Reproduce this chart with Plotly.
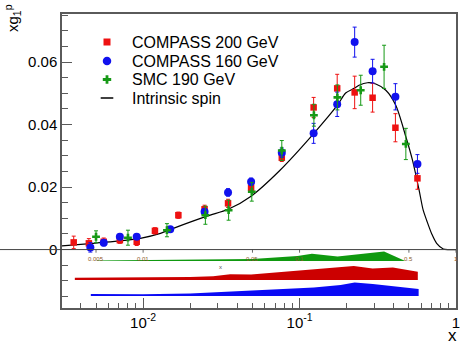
import math
import plotly.graph_objects as go

# ---------------- data ----------------
# COMPASS 200 GeV (red squares)
c200_x = [0.0036, 0.0045, 0.0056, 0.0071, 0.0091, 0.0119, 0.0168, 0.0247, 0.0349, 0.049,
          0.077, 0.123, 0.174, 0.225, 0.293, 0.41, 0.567]
c200_y = [0.0023, 0.0020, 0.0025, 0.0030, 0.0025, 0.0060, 0.0110, 0.0129, 0.0148, 0.0198,
          0.0294, 0.0455, 0.0516, 0.0503, 0.0486, 0.0390, 0.0228]
c200_e = [0.0020, 0.0015, 0.0012, 0.0010, 0.0012, 0.0010, 0.0010, 0.0013, 0.0013, 0.0012,
          0.0012, 0.0032, 0.0045, 0.0052, 0.0046, 0.0045, 0.0035]

# COMPASS 160 GeV (blue circles)
c160_x = [0.0046, 0.0056, 0.0071, 0.0091, 0.0149, 0.0247, 0.0349, 0.049, 0.077, 0.123,
          0.174, 0.225, 0.293, 0.41, 0.567]
c160_y = [0.0007, 0.0022, 0.0041, 0.0041, 0.0065, 0.0121, 0.0183, 0.0217, 0.0310, 0.0372,
          0.0465, 0.0664, 0.0571, 0.0489, 0.0274]
c160_e = [0.0015, 0.0010, 0.0008, 0.0008, 0.0008, 0.0010, 0.0012, 0.0012, 0.0015, 0.0032,
          0.0039, 0.0048, 0.0038, 0.0042, 0.0030]

# SMC 190 GeV (green crosses)
smc_x = [0.0050, 0.0080, 0.0142, 0.0250, 0.0352, 0.0495, 0.0770, 0.1235, 0.1745, 0.246,
         0.347, 0.478]
smc_y = [0.0041, 0.0038, 0.0062, 0.0110, 0.0126, 0.0185, 0.0317, 0.0430, 0.0487, 0.0510,
         0.0585, 0.0338]
smc_e = [0.0019, 0.0024, 0.0021, 0.0029, 0.0032, 0.0030, 0.0032, 0.0035, 0.0040, 0.0048,
         0.0069, 0.0050]

# Intrinsic spin curve
spin_x = [0.003, 0.0048, 0.0079, 0.0096, 0.0129, 0.0156, 0.0256, 0.035, 0.049, 0.075,
          0.1235, 0.1745, 0.197, 0.223, 0.24, 0.2716, 0.307, 0.356, 0.412, 0.478, 0.527,
          0.581, 0.617, 0.649, 0.70, 0.752, 0.829, 0.9, 1.0]
spin_y = [0.0012, 0.0020, 0.0030, 0.0036, 0.0052, 0.0068, 0.0107, 0.0129, 0.0171, 0.0254,
          0.0372, 0.0462, 0.0501, 0.0516, 0.0526, 0.0534, 0.0530, 0.0510, 0.0462, 0.0361, 0.0286,
          0.0190, 0.0126, 0.0094, 0.0050, 0.0020, 0.0002, 0.0, 0.0]

# systematic bands (x and band thickness)
smc_band_x = [0.00505, 0.01, 0.02, 0.036, 0.05, 0.097, 0.12, 0.175, 0.347, 0.47]
smc_band_h = [0.00016, 0.00026, 0.00038, 0.00048, 0.00064, 0.0016, 0.00237, 0.0015, 0.0031, 0.0001]
c200_band_x = [0.00366, 0.01, 0.02, 0.028, 0.036, 0.049, 0.123, 0.222, 0.293, 0.395, 0.57]
c200_band_h = [0.00074, 0.0008, 0.00096, 0.0012, 0.00186, 0.00182, 0.00342, 0.00448, 0.00374,
               0.00406, 0.00266]
c160_band_x = [0.00463, 0.01, 0.02, 0.036, 0.1235, 0.183, 0.225, 0.294, 0.577]
c160_band_h = [0.00064, 0.00058, 0.0008, 0.00138, 0.00278, 0.00352, 0.00438, 0.00384, 0.00224]

# labels
legend_names = ["COMPASS 200 GeV", "COMPASS 160 GeV", "SMC 190 GeV", "Intrinsic spin"]
y_tickvals = [0, 0.02, 0.04, 0.06]
y_ticktext = ["0", "0.02", "0.04", "0.06"]
x_tickvals = [0.01, 0.1, 1]
x_ticktext = ["10<sup>-2</sup>", "10<sup>-1</sup>", "1"]
inset_ticks = [0.005, 0.01, 0.05, 0.1, 0.5, 1]
inset_labels = ["0.005", "0.01", "0.05", "0.1", "0.5", "1"]

# ---------------- style ----------------
RED = "#ee1111"
BLUE = "#1111ee"
GREEN = "#169916"
BAND_GREEN = "#0f990f"
BAND_RED = "#cc0000"
BAND_BLUE = "#0a0af5"
FRAME = "#5a5a5a"
FONT = "Liberation Sans, Arial, sans-serif"

W, H = 474, 355
ML, MR, MT, MB = 62, 18, 14, 47
PW, PH = W - ML - MR, H - MT - MB
XR = [math.log10(0.00303), 0.0]
YR = [-0.0187, 0.0754]

BASE_GREEN = -0.00368
BASE_RED = -0.00976
BASE_BLUE = -0.01488


def px_x(px):
    return (px - ML) / PW


def px_y(py):
    return 1 - (py - MT) / PH


fig = go.Figure()


def band(bx, bh, base, color):
    xs = list(bx) + list(bx)[::-1]
    ys = [base + h for h in bh] + [base] * len(bx)
    return go.Scatter(x=xs, y=ys, mode="lines", fill="toself", fillcolor=color,
                      line=dict(width=0, color=color), showlegend=False, hoverinfo="skip")


fig.add_trace(band(smc_band_x, smc_band_h, BASE_GREEN, BAND_GREEN))
fig.add_trace(band(c200_band_x, c200_band_h, BASE_RED, BAND_RED))
fig.add_trace(band(c160_band_x, c160_band_h, BASE_BLUE, BAND_BLUE))

# curve
fig.add_trace(go.Scatter(x=spin_x, y=spin_y, mode="lines", line=dict(color="black", width=1.2,
                         shape="spline", smoothing=0.8), showlegend=False))

# data sets
fig.add_trace(go.Scatter(x=c200_x, y=c200_y, mode="markers", name=legend_names[0], showlegend=False,
                         marker=dict(symbol="square", size=6.5, color=RED),
                         error_y=dict(type="data", array=c200_e, color=RED, thickness=1, width=2)))
fig.add_trace(go.Scatter(x=c160_x, y=c160_y, mode="markers", name=legend_names[1], showlegend=False,
                         marker=dict(symbol="circle", size=8, color=BLUE),
                         error_y=dict(type="data", array=c160_e, color=BLUE, thickness=1, width=2)))
fig.add_trace(go.Scatter(x=smc_x, y=smc_y, mode="markers", name=legend_names[2], showlegend=False,
                         marker=dict(symbol="cross", size=6.5, color=GREEN),
                         error_y=dict(type="data", array=smc_e, color=GREEN, thickness=1, width=2)))

# hand-placed legend (overlay axes spanning the plot area, 0..1)
leg_rows = [42, 61, 79.5, 98]
leg_syms = [("square", 7, RED), ("circle", 8.5, BLUE), ("cross", 7, GREEN)]
for (sym, sz, col), row in zip(leg_syms, leg_rows[:3]):
    fig.add_trace(go.Scatter(x=[px_x(107)], y=[px_y(row)], xaxis="x2", yaxis="y2", mode="markers",
                             marker=dict(symbol=sym, size=sz, color=col), showlegend=False,
                             hoverinfo="skip"))
fig.add_trace(go.Scatter(x=[px_x(107)], y=[px_y(leg_rows[3])], xaxis="x2", yaxis="y2",
                         mode="markers", showlegend=False, hoverinfo="skip",
                         marker=dict(symbol="line-ew", size=9, color="black",
                                     line=dict(color="black", width=1.5))))
for name, row in zip(legend_names, leg_rows):
    fig.add_annotation(x=px_x(130), y=px_y(row), xref="paper", yref="paper", text=name,
                       showarrow=False, xanchor="left", yanchor="middle",
                       font=dict(size=16, color="black", family=FONT))

# zero line, extending left beyond the frame
fig.add_shape(type="line", xref="paper", yref="y", x0=-ML / PW, x1=1, y0=0, y1=0,
              line=dict(color="#444444", width=1), layer="above")
# inset axis ticks and labels
for v, t in zip(inset_ticks, inset_labels):
    fig.add_shape(type="line", xref="x", yref="y", x0=v, x1=v, y0=0, y1=-0.001,
                  line=dict(color="#444444", width=0.8))
    fig.add_annotation(x=math.log10(v), y=0, xref="x", yref="y", text=t, showarrow=False,
                       yshift=-9, font=dict(size=6, color="#8a5a2a", family=FONT))
fig.add_annotation(x=math.log10(0.0312), y=0, xref="x", yref="y", text="x", showarrow=False,
                   yshift=-17, font=dict(size=6, color="#555555", family=FONT))

# axis titles
fig.add_annotation(x=px_x(12), y=px_y(18), xref="paper", yref="paper",
                   text="xg<sub>1</sub><sup>p</sup>", textangle=-90, showarrow=False,
                   xanchor="center", yanchor="middle", font=dict(size=15, color="black", family=FONT))
fig.add_annotation(x=px_x(452), y=px_y(335), xref="paper", yref="paper",
                   text="x", showarrow=False, xanchor="center", yanchor="middle",
                   font=dict(size=17, color="black", family=FONT))

fig.update_layout(
    width=W, height=H,
    margin=dict(l=ML, r=MR, t=MT, b=MB),
    paper_bgcolor="white", plot_bgcolor="white",
    font=dict(family=FONT, size=15, color="black"),
    showlegend=False,
    xaxis=dict(type="log", range=XR, tickvals=x_tickvals, ticktext=x_ticktext,
               ticks="inside", ticklen=10, tickwidth=1, tickcolor=FRAME,
               showline=True, linecolor=FRAME, linewidth=1.5, mirror=True, automargin=False,
               showgrid=False, zeroline=False, tickfont=dict(size=15),
               minor=dict(ticks="inside", ticklen=5, tickcolor=FRAME, showgrid=False,
                          tickvals=[m * 10 ** e for e in (-3, -2, -1) for m in range(2, 10)])),
    yaxis=dict(range=YR, tickvals=y_tickvals, ticktext=y_ticktext,
               ticks="inside", ticklen=10, tickwidth=1, tickcolor=FRAME,
               showline=True, linecolor=FRAME, linewidth=1.5, mirror=True, automargin=False,
               showgrid=False, zeroline=False, tickfont=dict(size=15),
               minor=dict(ticks="inside", ticklen=6, tickcolor=FRAME, dtick=0.005, showgrid=False)),
    xaxis2=dict(overlaying="x", range=[0, 1], visible=False, anchor="y2"),
    yaxis2=dict(overlaying="y", range=[0, 1], visible=False, anchor="x2"),
)

fig.write_html("out.html", config={"displayModeBar": False},
               post_script="document.body.style.margin='0';")
